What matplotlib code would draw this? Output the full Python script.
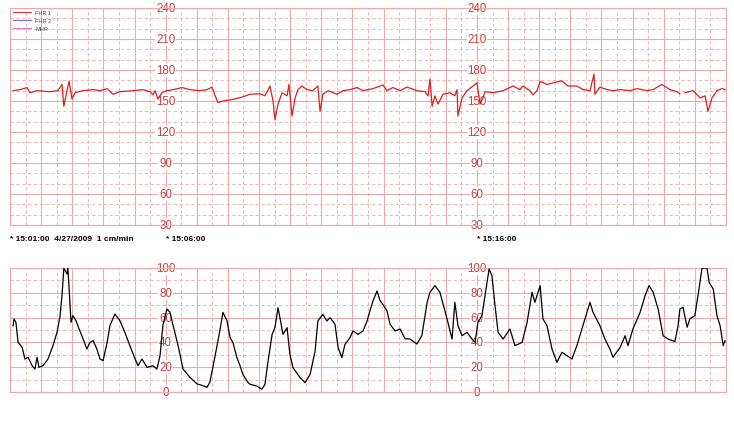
from __future__ import annotations

import numpy as np
import matplotlib

matplotlib.use("Agg")
import matplotlib.pyplot as plt
from matplotlib.lines import Line2D
from matplotlib.ticker import MultipleLocator


# minutes from 15:01:00, 1 cm/min paper
FHR_TIME = [
    0.10, 0.32, 0.55, 0.64, 0.87, 1.28, 1.54, 1.67, 1.73, 1.83, 1.90, 1.99, 2.09,
    2.35, 2.67, 2.89, 3.12, 3.31, 3.53, 3.95, 4.27, 4.50, 4.59, 4.66, 4.75, 4.88,
    5.04, 5.24, 5.53, 5.78, 6.10, 6.33, 6.49, 6.59, 6.68, 6.84, 7.16, 7.48, 7.71,
    8.03, 8.19, 8.35, 8.45, 8.51, 8.61, 8.74, 8.90, 8.96, 9.06, 9.16, 9.25, 9.38,
    9.54, 9.73, 9.89, 9.96, 10.05, 10.22, 10.50, 10.70, 10.92, 11.15, 11.34, 11.66,
    11.98, 12.11, 12.30, 12.53, 12.75, 13.07, 13.33, 13.43, 13.49, 13.56, 13.65,
    13.75, 13.91, 14.13, 14.29, 14.36, 14.39, 14.52, 14.68, 14.87, 15.00, 15.10,
    15.19, 15.26, 15.52, 15.84, 16.16, 16.38, 16.48, 16.70, 16.80, 16.93, 17.03,
    17.25, 17.44, 17.73, 17.92, 18.21, 18.41, 18.63, 18.76, 18.79, 18.95, 19.18,
    19.37, 19.60, 19.92, 20.14, 20.46, 20.66, 20.94, 21.20, 21.43, 21.52, 21.58,
    21.68, 21.94, 22.17, 22.33, 22.42, 22.55, 22.71, 22.87, 22.97,
]
FHR_BPM = [
    160, 161, 163, 158, 160, 159, 160, 166, 145, 160, 169, 152, 158,
    160, 161, 160, 162, 156.5, 159, 160, 161, 159, 156, 160, 152, 158,
    160, 161, 163, 161, 160, 161, 163.5, 155, 148.5, 150, 151.5, 154, 156.5,
    157, 155, 164.5, 150, 132, 147, 158, 155, 166, 135.5, 153, 161, 164.5,
    161, 160, 164.5, 140, 156.5, 160, 156.5, 160, 161, 163, 160, 162,
    165.5, 160, 163, 160, 163.5, 160, 159, 155, 171, 145, 155,
    147, 156.5, 158, 155, 161, 135.5, 153, 160, 164.5, 167.5, 147,
    153, 159, 158, 160, 164.5, 161, 164.5, 160, 156, 160, 169,
    166, 167.5, 169.5, 164.5, 164.5, 161, 160, 176, 156.5, 163.5, 161,
    160, 161, 160, 162, 160, 161, 166, 161, 159, 157, np.nan,
    158, 160, 153, 155, 140, 153, 160, 162, 161,
]

UC_TIME = [
    0.10, 0.13, 0.19, 0.26, 0.39, 0.48, 0.58, 0.71, 0.80, 0.87, 0.93, 1.06, 1.22,
    1.38, 1.51, 1.61, 1.67, 1.73, 1.83, 1.86, 1.90, 1.96, 2.02, 2.12, 2.22, 2.35,
    2.47, 2.57, 2.67, 2.79, 2.89, 2.99, 3.12, 3.21, 3.37, 3.53, 3.69, 3.85, 4.02,
    4.11, 4.24, 4.40, 4.59, 4.72, 4.82, 4.91, 5.04, 5.14, 5.24, 5.40, 5.56, 5.78,
    6.01, 6.20, 6.33, 6.42, 6.59, 6.75, 6.84, 6.97, 7.07, 7.16, 7.29, 7.39, 7.48,
    7.65, 7.71, 7.93, 8.09, 8.19, 8.29, 8.42, 8.51, 8.61, 8.67, 8.77, 8.90, 8.99,
    9.09, 9.32, 9.48, 9.64, 9.80, 9.89, 10.05, 10.18, 10.28, 10.44, 10.54, 10.66,
    10.76, 10.92, 11.02, 11.18, 11.34, 11.47, 11.56, 11.66, 11.79, 11.89, 11.98,
    12.11, 12.21, 12.37, 12.53, 12.69, 12.85, 13.07, 13.23, 13.40, 13.49, 13.65,
    13.81, 14.04, 14.20, 14.29, 14.39, 14.52, 14.68, 14.84, 14.94, 15.03, 15.16,
    15.26, 15.39, 15.48, 15.58, 15.68, 15.84, 16.06, 16.22, 16.45, 16.61, 16.77,
    16.86, 17.03, 17.12, 17.25, 17.41, 17.57, 17.73, 17.89, 18.05, 18.21, 18.37,
    18.50, 18.63, 18.73, 18.95, 19.11, 19.27, 19.37, 19.60, 19.76, 19.85, 20.01,
    20.24, 20.40, 20.53, 20.66, 20.82, 20.98, 21.14, 21.36, 21.46, 21.52, 21.62,
    21.75, 21.84, 22.00, 22.10, 22.23, 22.39, 22.46, 22.59, 22.71, 22.81, 22.91,
    22.97,
]
UC_VALUE = [
    53.5, 58.9, 56.2, 40, 36, 26.6, 28, 21.2, 18.5, 28, 19.9, 21.2, 26.6,
    37.4, 48.1, 61.6, 77.7, 100, 95.2, 100, 83, 56.2, 61.6, 57.5, 50.8, 42.7,
    34.7, 40, 41.4, 34.7, 26.6, 25.3, 40, 53.5, 62.9, 57.5, 48.1, 37.4, 26.6,
    21.2, 26.6, 19.9, 21.2, 18.5, 29.3, 53.5, 66.9, 64.2, 53.5, 37.4, 18.5, 11.8,
    6.5, 5.1, 3.8, 7.8, 29.3, 50.8, 64.2, 57.5, 43.8, 40, 27.7, 21.2, 14.2,
    7.5, 6.2, 4.8, 2.2, 6.2, 25, 46.5, 51.9, 68, 60, 46.5, 51.9, 30.4,
    19.6, 11.6, 7.5, 14.2, 33, 57.3, 62.6, 57.3, 60, 54.6, 35.8, 27.7,
    38.4, 43.8, 49.2, 46.5, 49.2, 57.3, 65.3, 73.4, 81.5, 73.4, 70.7,
    65.3, 54.6, 49.2, 50.8, 43, 42.7, 38.7, 45.4, 72.3, 80.4, 85.8,
    80.4, 58.9, 42.7, 72.3, 53.5, 45.4, 48.1, 42.7, 40, 56.2, 61.6,
    77.7, 99.2, 93.8, 69.6, 48.1, 42.7, 50.8, 37.4, 40, 56.2, 80.4,
    72.3, 85.8, 58.9, 53.5, 34.7, 24, 32, 29.3, 26.6, 37.4, 50.8,
    61.6, 72.3, 64.2, 53.5, 42.7, 34.7, 28, 36, 45.4, 37.4, 50.8,
    64.2, 77.7, 85.8, 80.4, 66.9, 45.4, 42.7, 40.6, 53.5, 66.9, 68.3,
    52.2, 58.9, 61.6, 77.7, 100, 100, 88.4, 83, 61.6, 53.5, 37.4,
    41.4,
]

FHR_LABELS = [30, 60, 90, 120, 150, 180, 210, 240]
UC_LABELS = [0, 20, 40, 60, 80, 100]
LABEL_MINUTES = [5, 15]
STAMP_MINUTES = [0, 5, 15]
STAMP_TEXTS = ["* 15:01:00  4/27/2009  1 cm/min", "* 15:06:00", "* 15:16:00"]

GRID = "#eeaaaa"
LABEL_RED = "#d23a3a"


def _paper(ax, ymin, ymax, major, minor) -> None:
    ax.set_xlim(0, 23)
    ax.set_ylim(ymin, ymax)
    ax.xaxis.set_major_locator(MultipleLocator(1))
    ax.xaxis.set_minor_locator(MultipleLocator(0.5))
    ax.yaxis.set_major_locator(MultipleLocator(major))
    ax.yaxis.set_minor_locator(MultipleLocator(minor))
    ax.grid(which="major", color=GRID, lw=0.8, ls="-", zorder=0)
    ax.grid(which="minor", color=GRID, lw=0.6, ls=(0, (4, 3)), zorder=0)
    ax.tick_params(which="both", length=0, labelbottom=False, labelleft=False)
    for s in ax.spines.values():
        s.set_color(GRID)
        s.set_linewidth(0.8)
    ax.set_axisbelow(True)


def _scale_labels(ax, values) -> None:
    for m in LABEL_MINUTES:
        for v in values:
            ax.text(m, v, str(v), ha="center", va="center", fontsize=8.3,
                    color=LABEL_RED, zorder=2, clip_on=False,
                    bbox=dict(fc="white", ec="none", pad=0.6))


def main() -> None:
    plt.rcParams["font.family"] = ["Liberation Sans", "DejaVu Sans"]

    fig = plt.figure(figsize=(7.34, 4.27), dpi=100)
    ax1 = fig.add_axes([10 / 734, 1 - 226 / 427, 716 / 734, 217 / 427])
    ax2 = fig.add_axes([10 / 734, 1 - 393 / 427, 716 / 734, 124 / 427])

    _paper(ax1, 30, 240, 30, 10)
    _paper(ax2, 0, 100, 20, 10)
    _scale_labels(ax1, FHR_LABELS)
    _scale_labels(ax2, UC_LABELS)

    ax1.plot(FHR_TIME, FHR_BPM, color="#e01e1e", lw=0.9, zorder=3)
    ax2.plot(UC_TIME, UC_VALUE, color="black", lw=0.9, zorder=3)

    # time stamps sit in the strip between the two panels
    for m, txt in zip(STAMP_MINUTES, STAMP_TEXTS):
        ax1.text(m, -14 / 217, txt, transform=ax1.get_xaxis_transform(),
                 ha="left", va="center", fontsize=6, fontweight="bold",
                 color="black", clip_on=False)

    handles = [
        Line2D([], [], color="#e03030", lw=0.8, label="FHR 1"),
        Line2D([], [], color="#6a74c0", lw=0.8, label="FHR 2"),
        Line2D([], [], color="#e070e0", lw=0.8, label="MHR"),
    ]
    leg = fig.legend(handles=handles, loc="upper left",
                     bbox_to_anchor=(13 / 734, 1 - 11 / 427), frameon=False,
                     fontsize=4, handlelength=3.2, handletextpad=0.8,
                     labelspacing=0.55, borderpad=0, borderaxespad=0)
    for t in leg.get_texts():
        t.set_color("#444444")

    fig.savefig("out.png", dpi=100)


if __name__ == "__main__":
    main()
